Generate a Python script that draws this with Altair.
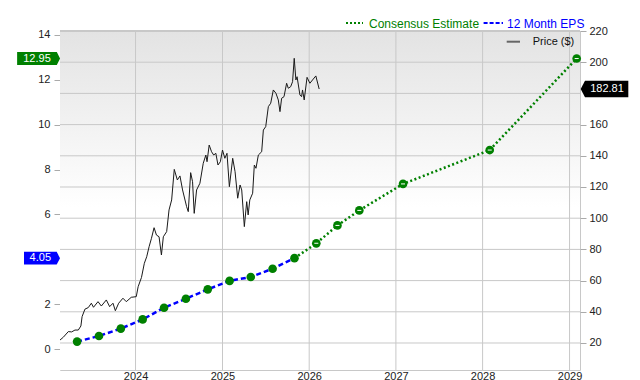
import altair as alt
import pandas as pd

# ---------------- data ----------------
price_dates = [
    "2023-02-17", "2023-03-03", "2023-03-24", "2023-04-07", "2023-04-21", "2023-05-05",
    "2023-05-16", "2023-05-21", "2023-06-02", "2023-06-16", "2023-06-29", "2023-07-08",
    "2023-07-27", "2023-08-10", "2023-08-31", "2023-09-14", "2023-09-28", "2023-10-08",
    "2023-10-22", "2023-11-09", "2023-11-23", "2023-12-14", "2024-01-04", "2024-01-12",
    "2024-01-26", "2024-02-07", "2024-02-17", "2024-02-27", "2024-03-08", "2024-03-19",
    "2024-03-29", "2024-04-09", "2024-04-19", "2024-04-27", "2024-05-11", "2024-05-21",
    "2024-06-01", "2024-06-12", "2024-06-25", "2024-07-06", "2024-07-17", "2024-08-03",
    "2024-08-10", "2024-08-20", "2024-08-28", "2024-09-04", "2024-09-14", "2024-09-28",
    "2024-10-12", "2024-10-23", "2024-10-28", "2024-11-06", "2024-11-16", "2024-11-25",
    "2024-12-04", "2024-12-13", "2024-12-23", "2025-01-01", "2025-01-11", "2025-01-20",
    "2025-01-30", "2025-02-13", "2025-02-23", "2025-03-06", "2025-03-16", "2025-03-23",
    "2025-04-03", "2025-04-13", "2025-04-19", "2025-04-26", "2025-05-08", "2025-05-15",
    "2025-05-22", "2025-06-01", "2025-06-15", "2025-06-22", "2025-07-02", "2025-07-13",
    "2025-07-23", "2025-08-03", "2025-08-14", "2025-08-24", "2025-08-31", "2025-09-07",
    "2025-09-17", "2025-09-28", "2025-10-05", "2025-10-15", "2025-10-23", "2025-10-30",
    "2025-11-06", "2025-11-11", "2025-11-23", "2025-11-30", "2025-12-04", "2025-12-11",
    "2025-12-23", "2026-01-04", "2026-01-15", "2026-01-29", "2026-02-12",
]
price_values = [
    21.9, 23.7, 27.3, 27.1, 28.3, 28.3,
    30.9, 36.9, 41.7, 42.7, 45.5, 42.9,
    46.5, 43.7, 47.6, 43.3, 45.5, 40.7,
    45.5, 48.7, 46.5, 49.3, 49.7, 56.1,
    62.0, 71.1, 75.3, 81.7, 87.1, 93.9,
    89.2, 88.1, 76.4, 88.1, 91.4, 105.3,
    111.7, 131.3, 124.5, 127.1, 118.1, 107.4,
    104.2, 129.2, 123.4, 103.1, 118.1, 122.4,
    135.2, 140.5, 136.2, 146.9, 142.6, 140.5,
    141.6, 134.1, 136.2, 143.7, 138.4, 141.6,
    120.2, 138.4, 129.8, 112.8, 121.3, 118.1,
    94.6, 110.6, 102.1, 111.7, 116.0, 134.1,
    132.0, 140.5, 142.6, 156.5, 158.7, 171.5,
    173.7, 182.2, 180.1, 175.8, 168.3, 176.9,
    177.9, 186.5, 183.3, 184.3, 187.5, 202.5,
    188.6, 190.7, 179.0, 177.9, 182.2, 175.8,
    190.3, 186.5, 188.6, 191.2, 182.81,
]

eps_dates = [
    "2023-04-30", "2023-07-31", "2023-10-31", "2024-01-31", "2024-04-30", "2024-07-31",
    "2024-10-31", "2025-01-31", "2025-04-30", "2025-07-31", "2025-10-31",
    "2026-01-31", "2026-04-30", "2026-07-31", "2027-01-31", "2028-01-31", "2029-01-31",
]
eps_values = [
    0.33, 0.58, 0.91, 1.32, 1.84, 2.24,
    2.66, 3.04, 3.21, 3.58, 4.05,
    4.71, 5.51, 6.18, 7.36, 8.87, 12.95,
]
n_actual = 11

year_ticks = ["2024-01-01", "2025-01-01", "2026-01-01", "2027-01-01", "2028-01-01", "2029-01-01"]
years = [2024, 2025, 2026, 2027, 2028, 2029]
eps_ticks = [0, 2, 6, 8, 10, 12, 14]          # 4 sits under the 4.05 flag
price_ticks = [20, 40, 60, 80, 100, 120, 140, 160, 200, 220]  # 180 sits under the price flag
price_grid = [20, 40, 60, 80, 100, 120, 140, 160, 180, 200]

# ---------------- frames ----------------
price_df = pd.DataFrame({"date": price_dates, "price": price_values})
actual_df = pd.DataFrame({"date": eps_dates[:n_actual], "eps": eps_values[:n_actual]})
est_line_df = pd.DataFrame({"date": eps_dates[n_actual - 1:], "eps": eps_values[n_actual - 1:]})
est_pts_df = pd.DataFrame({"date": eps_dates[n_actual:], "eps": eps_values[n_actual:]})
all_eps_df = pd.DataFrame({"date": eps_dates, "eps": eps_values})
year_df = pd.DataFrame({"date": year_ticks})
grid_df = pd.DataFrame({"price": price_grid})
one = pd.DataFrame({"k": [0]})

W, H = 520, 339
FONT = "Liberation Sans"
GRID = "#c8c8c8"
GREEN = "#008000"
BLUE = "#0000ff"

x_enc = alt.X(
    "date:T",
    scale=alt.Scale(domain=["2023-02-17", "2029-02-14"]),
    axis=alt.Axis(
        values=[alt.DateTime(year=y, month=1, date=1) for y in years],
        format="%Y", grid=False, domain=False, ticks=False,
        labelPadding=0, labelFontSize=11, labelColor="#222", labelFont=FONT,
        title=None,
    ),
)

y_price = alt.Y(
    "price:Q",
    scale=alt.Scale(domain=[2.69, 220], nice=False, zero=False),
    axis=alt.Axis(
        orient="right", values=price_ticks, grid=False, domain=False,
        tickColor="#aaaaaa", tickSize=6, labelPadding=3,
        labelFontSize=11, labelColor="#222", labelFont=FONT, title=None,
    ),
)

y_eps = alt.Y(
    "eps:Q",
    scale=alt.Scale(domain=[-0.936, 14.178], nice=False, zero=False),
    axis=alt.Axis(
        orient="left", values=eps_ticks, grid=False, domain=False,
        tickColor="#aaaaaa", tickSize=6, labelPadding=4,
        labelFontSize=11, labelColor="#222", labelFont=FONT, title=None,
    ),
)

# ---------------- price group (right axis) ----------------
bg = alt.Chart(one).mark_rect(
    color=alt.LinearGradient(
        gradient="linear",
        stops=[
            alt.GradientStop(color="#e3e3e3", offset=0),
            alt.GradientStop(color="#ffffff", offset=0.52),
            alt.GradientStop(color="#ffffff", offset=1),
        ],
        x1=0, x2=0, y1=0, y2=1,
    )
).encode(x=alt.value(0), x2=alt.value(W), y=alt.value(0), y2=alt.value(H))

vgrid = alt.Chart(year_df).mark_rule(color=GRID, strokeWidth=1).encode(x=x_enc)
hgrid = alt.Chart(grid_df).mark_rule(color=GRID, strokeWidth=1).encode(y=y_price)
top_border = alt.Chart(one).mark_rule(color=GRID, strokeWidth=2).encode(
    x=alt.value(0), x2=alt.value(W), y=alt.value(0)
)

price_line = alt.Chart(price_df).mark_line(color="#1a1a1a", strokeWidth=1).encode(x=x_enc, y=y_price)

price_flag_df = pd.DataFrame({"price": [price_values[-1]]})
price_flag = alt.Chart(price_flag_df).mark_point(
    shape="M 1 -0.35 L -0.82 -0.35 L -1 0 L -0.82 0.35 L 1 0.35 Z",
    filled=True, opacity=1, color="#000000", size=2266, strokeWidth=0,
).encode(x=alt.value(544.5), y=y_price)
price_flag_text = alt.Chart(price_flag_df).mark_text(
    color="white", fontSize=11, font=FONT, align="center", baseline="middle"
).encode(x=alt.value(547), y=y_price, text=alt.Text("price:Q", format=".2f"))

price_legend_line = alt.Chart(one).mark_rule(color="#666666", strokeWidth=2).encode(
    x=alt.value(446.7), x2=alt.value(460), y=alt.value(10.7)
)
price_legend_text = alt.Chart(one).mark_text(
    fontSize=11, font=FONT, color="#111", align="left", baseline="middle"
).encode(x=alt.value(472.7), y=alt.value(11), text=alt.value("Price ($)"))

price_group = alt.layer(
    bg, vgrid, hgrid, top_border, price_line, price_flag, price_flag_text,
    price_legend_line, price_legend_text,
)

# ---------------- EPS group (left axis) ----------------
actual_line = alt.Chart(actual_df).mark_line(
    color=BLUE, strokeWidth=2.5, strokeDash=[5, 3]
).encode(x=x_enc, y=y_eps)
est_line = alt.Chart(est_line_df).mark_line(
    color=GREEN, strokeWidth=2.5, strokeDash=[2, 2.5]
).encode(x=x_enc, y=y_eps)
eps_points = alt.Chart(all_eps_df).mark_circle(size=75, color=GREEN, opacity=1).encode(x=x_enc, y=y_eps)
est_marks = alt.Chart(est_pts_df).mark_tick(
    orient="horizontal", size=4, thickness=1, color="white", opacity=1
).encode(x=x_enc, y=y_eps)

est_flag_df = pd.DataFrame({"eps": [eps_values[-1]]})
act_flag_df = pd.DataFrame({"eps": [eps_values[n_actual - 1]]})

est_flag = alt.Chart(est_flag_df).mark_point(
    shape="M -1 -0.3 L 0.846 -0.3 L 1 0 L 0.846 0.3 L -1 0.3 Z",
    filled=True, opacity=1, color=GREEN, size=1849, strokeWidth=0,
).encode(x=alt.value(-21.4), y=y_eps)
est_flag_text = alt.Chart(est_flag_df).mark_text(
    color="white", fontSize=11, font=FONT, align="center", baseline="middle"
).encode(x=alt.value(-23), y=y_eps, text=alt.Text("eps:Q", format=".2f"))

act_flag = alt.Chart(act_flag_df).mark_point(
    shape="M -1 -0.35 L 0.817 -0.35 L 1 0 L 0.817 0.35 L -1 0.35 Z",
    filled=True, opacity=1, color=BLUE, size=1296, strokeWidth=0,
).encode(x=alt.value(-18), y=y_eps)
act_flag_text = alt.Chart(act_flag_df).mark_text(
    color="white", fontSize=11, font=FONT, align="center", baseline="middle"
).encode(x=alt.value(-19.7), y=y_eps, text=alt.Text("eps:Q", format=".2f"))

leg_est_line = alt.Chart(one).mark_rule(color=GREEN, strokeWidth=2, strokeDash=[2, 2]).encode(
    x=alt.value(286), x2=alt.value(303), y=alt.value(-8)
)
leg_est_text = alt.Chart(one).mark_text(
    fontSize=12, font=FONT, color=GREEN, align="left", baseline="middle"
).encode(x=alt.value(309), y=alt.value(-7.5), text=alt.value("Consensus Estimate"))
leg_act_line = alt.Chart(one).mark_rule(color=BLUE, strokeWidth=2, strokeDash=[4, 2]).encode(
    x=alt.value(423.6), x2=alt.value(443), y=alt.value(-8)
)
leg_act_text = alt.Chart(one).mark_text(
    fontSize=12, font=FONT, color=BLUE, align="left", baseline="middle"
).encode(x=alt.value(447), y=alt.value(-7.5), text=alt.value("12 Month EPS"))

eps_group = alt.layer(
    actual_line, est_line, eps_points, est_marks,
    est_flag, est_flag_text, act_flag, act_flag_text,
    leg_est_line, leg_est_text, leg_act_line, leg_act_text,
)

chart = (
    alt.layer(price_group, eps_group)
    .resolve_scale(y="independent")
    .properties(
        width=W, height=H,
        autosize=alt.AutoSizeParams(type="none"),
        padding={"left": 60, "top": 31, "right": 60, "bottom": 10},
        background="white",
    )
    .configure_view(stroke=GRID, strokeWidth=1)
)

chart.save("out.html", embed_options={"renderer": "svg", "actions": False})
